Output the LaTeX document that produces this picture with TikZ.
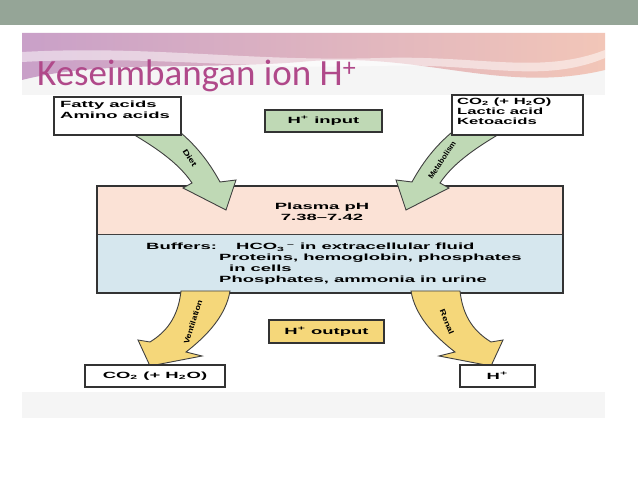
\documentclass[tikz,border=0pt]{standalone}
\usepackage{fontspec}
\setmainfont{Liberation Sans}
\newfontfamily\titlefont{Carlito}
\newcommand\wide[1]{\scalebox{2.05}[1]{#1}}
\newcommand\widr[1]{\scalebox{1.85}[1]{#1}}
\definecolor{barc}{HTML}{95A597}
\definecolor{grn}{HTML}{BFD9B5}
\definecolor{ylw}{HTML}{F5D77A}
\definecolor{pinkc}{HTML}{FBE2D6}
\definecolor{bluec}{HTML}{D6E7EE}
\definecolor{titlec}{HTML}{B0498A}
\definecolor{swa}{HTML}{C9A0C8}
\definecolor{swb}{HTML}{F2C6B8}
\begin{document}
\begin{tikzpicture}[x=1pt,y=-1pt,
  box/.style={draw=black!80,line width=1.1pt,fill=white,font=\bfseries\fontsize{9}{10}\selectfont,inner sep=0pt},
  txt/.style={font=\bfseries\fontsize{9}{11}\selectfont,inner sep=0pt},
  fat/.style={draw=black!75,line width=0.9pt},
  alab/.style={font=\bfseries\fontsize{7.5}{8}\selectfont}]
\useasboundingbox (0,0) rectangle (638,478);
\fill[white] (0,0) rectangle (638,478);
\fill[barc] (0,0) rectangle (638,25);
\fill[black!4] (22,33) rectangle (605,418);
\fill[white] (22,95) rectangle (605,392);
% swoosh
\shade[left color=swa,right color=swb] (22,33) -- (605,33) -- (605,70) .. controls (500,95) and (420,50) .. (300,62) .. controls (200,70) and (100,60) .. (22,80) -- cycle;
\fill[white,opacity=0.5] (22,52) .. controls (150,45) and (250,62) .. (380,58) .. controls (480,55) and (540,75) .. (605,50) -- (605,58) .. controls (540,85) and (480,62) .. (380,66) .. controls (250,70) and (150,55) .. (22,62) -- cycle;
\node[anchor=base west,text=titlec,font=\titlefont\fontsize{37}{40}\selectfont,inner sep=0pt] (title) at (37,86) {Keseimbangan ion H\textsuperscript{+}};
% main box
\fill[pinkc] (97,186) rectangle (563,234);
\fill[bluec] (97,234) rectangle (563,293);
\draw[black!75,line width=0.8pt] (97,234) -- (563,234);
\draw[black!80,line width=1.1pt] (97,186) rectangle (563,293);
\node[txt,align=center] (plasma) at (322,212) {\wide{Plasma pH}\\[0pt]\wide{7.38--7.42}};
\node[txt,anchor=base west] (buf) at (146,250) {\wide{Buffers:}};
\node[txt,anchor=base west] (b1) at (236,250) {\wide{HCO\textsubscript{3}\textsuperscript{\,--} in extracellular fluid}};
\node[txt,anchor=base west] (b2) at (219,261) {\wide{Proteins, hemoglobin, phosphates}};
\node[txt,anchor=base west] (b3) at (229,272) {\wide{in cells}};
\node[txt,anchor=base west] (b4) at (219,283) {\wide{Phosphates, ammonia in urine}};
% input arrows
\draw[fat,fill=grn] (131,133) .. controls (160,150) and (180,165) .. (192,183) -- (183,188) -- (226,210) -- (236,180) -- (220,182) .. controls (208,160) and (195,145) .. (181,133) -- cycle;
\node[alab,rotate=-58] (diet) at (190,158) {\scalebox{1.4}[1]{Diet}};
\begin{scope}[xshift=632pt,xscale=-1]
\draw[fat,fill=grn] (131,133) .. controls (160,150) and (180,165) .. (192,183) -- (183,188) -- (226,210) -- (236,180) -- (220,182) .. controls (208,160) and (195,145) .. (181,133) -- cycle;
\end{scope}
\node[alab,rotate=56] (metab) at (442,160) {\scalebox{1.05}[1]{Metabolism}};
% output arrows
\draw[fat,fill=ylw] (181,291) .. controls (178,318) and (166,332) .. (150,342) -- (138,340) -- (150,366) -- (202,356) -- (186,352) .. controls (208,335) and (226,315) .. (230,291) -- cycle;
\node[alab,rotate=72] (vent) at (193,322) {\scalebox{1.2}[1]{Ventilation}};
\begin{scope}[xshift=641pt,xscale=-1]
\draw[fat,fill=ylw] (181,291) .. controls (178,318) and (166,332) .. (150,342) -- (138,340) -- (150,366) -- (202,356) -- (186,352) .. controls (208,335) and (226,315) .. (230,291) -- cycle;
\end{scope}
\node[alab,rotate=-68] (renal) at (447,322) {\scalebox{1.3}[1]{Renal}};
% boxes
\node[box,minimum width=127pt,minimum height=38pt] (fatty) at (117.5,116) {};
\node[txt,anchor=north west,align=left] (fattyt) at (60,101) {\wide{Fatty acids}\\\wide{Amino acids}};
\node[box,fill=grn,minimum width=117pt,minimum height=22pt] (hin) at (323.5,121) {\wide{H\textsuperscript{+} input}};
\node[box,minimum width=131pt,minimum height=40pt] (co2in) at (517.5,115) {};
\node[txt,anchor=north west,align=left,font=\bfseries\fontsize{9}{9.8}\selectfont] (co2t) at (457,98) {\widr{CO\textsubscript{2}\ (+ H\textsubscript{2}O)}\\\widr{Lactic acid}\\\widr{Ketoacids}};
\node[box,fill=ylw,minimum width=115pt,minimum height=23pt] (hout) at (326.5,331.5) {\wide{H\textsuperscript{+} output}};
\node[box,minimum width=140pt,minimum height=22pt] (co2out) at (155,376) {\wide{CO\textsubscript{2}\ (+ H\textsubscript{2}O)}};
\node[box,minimum width=75pt,minimum height=22pt] (hplus) at (497.5,376) {\wide{H\textsuperscript{+}}};
\end{tikzpicture}
\end{document}
